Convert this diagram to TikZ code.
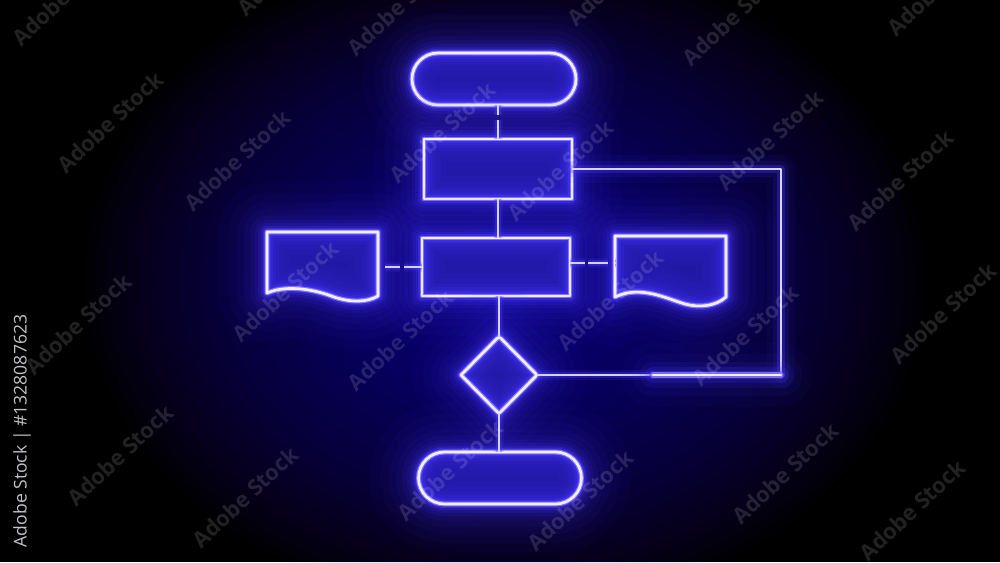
\documentclass[tikz,border=0pt]{standalone}
\usepackage{fontspec}
\newfontfamily\wmfont{Open Sans}
\usetikzlibrary{shapes.geometric,shapes.misc,calc}
\definecolor{nfill}{RGB}{30,22,158}
\definecolor{nglow}{RGB}{72,56,255}
\definecolor{nmid}{RGB}{140,125,255}
\definecolor{ncore}{RGB}{242,240,255}
\definecolor{ccore}{RGB}{215,210,255}
\definecolor{hz}{RGB}{42,30,200}
\definecolor{credgray}{RGB}{195,195,200}
\tikzset{
  gl/.style={line join=round, line cap=round},
  neon/.style={
    preaction={fill=nfill},
    preaction={draw=nglow, gl, line width=56pt, draw opacity=0.035},
    preaction={draw=nglow, gl, line width=44pt, draw opacity=0.04},
    preaction={draw=nglow, gl, line width=34pt, draw opacity=0.05},
    preaction={draw=nglow, gl, line width=26pt, draw opacity=0.06},
    preaction={draw=nglow, gl, line width=19pt, draw opacity=0.08},
    preaction={draw=nglow, gl, line width=14pt, draw opacity=0.1},
    preaction={draw=nglow, gl, line width=10pt, draw opacity=0.14},
    preaction={draw=nglow, gl, line width=7pt, draw opacity=0.22},
    preaction={draw=nglow, gl, line width=4.8pt, draw opacity=0.45},
    preaction={draw=nmid, gl, line width=2.8pt, draw opacity=0.9},
    draw=ncore, line width=1.5pt, line join=round},
  pill/.style={rounded rectangle, inner sep=0pt, outer sep=0pt, neon},
  procbox/.style={rectangle, inner sep=0pt, outer sep=0pt, neon},
  decision/.style={diamond, inner sep=0pt, outer sep=0pt, neon},
  docbox/.style={rectangle, inner sep=0pt, outer sep=0pt},
  conn/.style={draw=ccore, line width=0.8pt, #1,
    preaction={draw=nglow, line width=6pt, draw opacity=0.15, #1},
    preaction={draw=nglow, line width=3pt, draw opacity=0.35, #1}},
  conn/.default={solid},
  loopline/.style={draw=ncore!85!nglow, line width=0.9pt, line join=round,
    preaction={draw=nglow, gl, line width=16pt, draw opacity=0.06},
    preaction={draw=nglow, gl, line width=9pt, draw opacity=0.1},
    preaction={draw=nglow, gl, line width=4.5pt, draw opacity=0.3}},
  loopbright/.style={draw=ncore, line width=1.4pt, line cap=round,
    preaction={draw=nglow, gl, line width=36pt, draw opacity=0.04},
    preaction={draw=nglow, gl, line width=24pt, draw opacity=0.06},
    preaction={draw=nglow, gl, line width=15pt, draw opacity=0.1},
    preaction={draw=nglow, gl, line width=9pt, draw opacity=0.18},
    preaction={draw=nglow, gl, line width=5pt, draw opacity=0.4},
    preaction={draw=nmid, gl, line width=3pt, draw opacity=0.8}},
  wm/.style={text=white, text opacity=0.13, font=\wmfont\bfseries\fontsize{12.5}{14}\selectfont, rotate=43, inner sep=0pt},
  credit/.style={text=credgray, font=\wmfont\fontsize{10}{12}\selectfont, rotate=90, inner sep=0pt}
}
\begin{document}
\begin{tikzpicture}[x=0.02cm, y=-0.02cm]
\fill[black] (0,0) rectangle (1000,562);
\useasboundingbox (0,0) rectangle (1000,562);
\foreach \k in {1,...,40}
  \fill[hz, fill opacity=0.028] (505,280) ellipse [x radius={0.21cm*\k}, y radius={0.165cm*\k}];

\coordinate (lc1) at (781,170);
\coordinate (lc3) at (653,375);

% shapes
\node[pill, minimum width=3.28cm, minimum height=1.04cm] (start) at (494,79) {};
\node[procbox, minimum width=2.96cm, minimum height=1.2cm] (p1) at (498,169) {};
\node[procbox, minimum width=2.96cm, minimum height=1.16cm] (p2) at (496,267) {};
\node[decision, minimum width=1.52cm, minimum height=1.54cm] (dec) at (499,375) {};
\node[pill, minimum width=3.26cm, minimum height=1.04cm] (stop) at (500,478) {};
\node[docbox, minimum width=2.22cm, minimum height=1.28cm] (ldoc) at (322.5,264) {};
\node[docbox, minimum width=2.22cm, minimum height=1.28cm] (rdoc) at (670.5,268) {};

\path[neon] (267,232) -- (378,232) -- (378,296)
  .. controls (368,302) and (352,303) .. (334,297)
  .. controls (316,290) and (288,284) .. (267,293) -- cycle;
\path[neon] (615,236) -- (726,236) -- (726,297)
  .. controls (716,306) and (700,308) .. (685,304)
  .. controls (665,298) and (640,285) .. (615,297) -- cycle;

\draw[conn={dash pattern=on 10.8pt off 2.8pt on 20pt}] (p1.north) -- (p1.north |- start.south);
\draw[conn] (p1.south) -- (p1.south |- p2.north);
\draw[conn] (dec.north) -- (dec.north |- p2.south);
\draw[conn] (dec.south) -- (dec.south |- stop.north);
\draw[conn={dash pattern=on 10.2pt off 2.3pt on 8.5pt off 10pt}] (p2.west) -- (p2.west -| ldoc.east);
\draw[conn={dash pattern=on 8.5pt off 1.7pt on 11.3pt off 4pt}] ([yshift=0.08cm]p2.east) -- ([yshift=0.08cm]p2.east -| rdoc.west);

\draw[loopline] (p1.east) -- (p1.east -| lc1) -- (lc1 |- dec.east);
\draw[conn] (dec.east) -- (lc3);
\draw[loopbright] (lc3) -- (lc1 |- dec.east);

% watermarks
\foreach \x/\y [count=\i] in {65/-5, 290/-35, 400/5, 620/-25, 735/15, 940/-15,
  110/122, 237/160, 442/132, 560/170, 770/140, 900/180,
  78/324, 285/291, 400/340, 610/300, 745/335, 943/313,
  120/455, 245/497, 450/470, 580/500, 785/473, 912/510}
  \node[wm] (wm\i) at (\x,\y) {Adobe Stock};

\node[credit] (credit) at (22,431) {Adobe Stock | \#1328087623};
\end{tikzpicture}
\end{document}
